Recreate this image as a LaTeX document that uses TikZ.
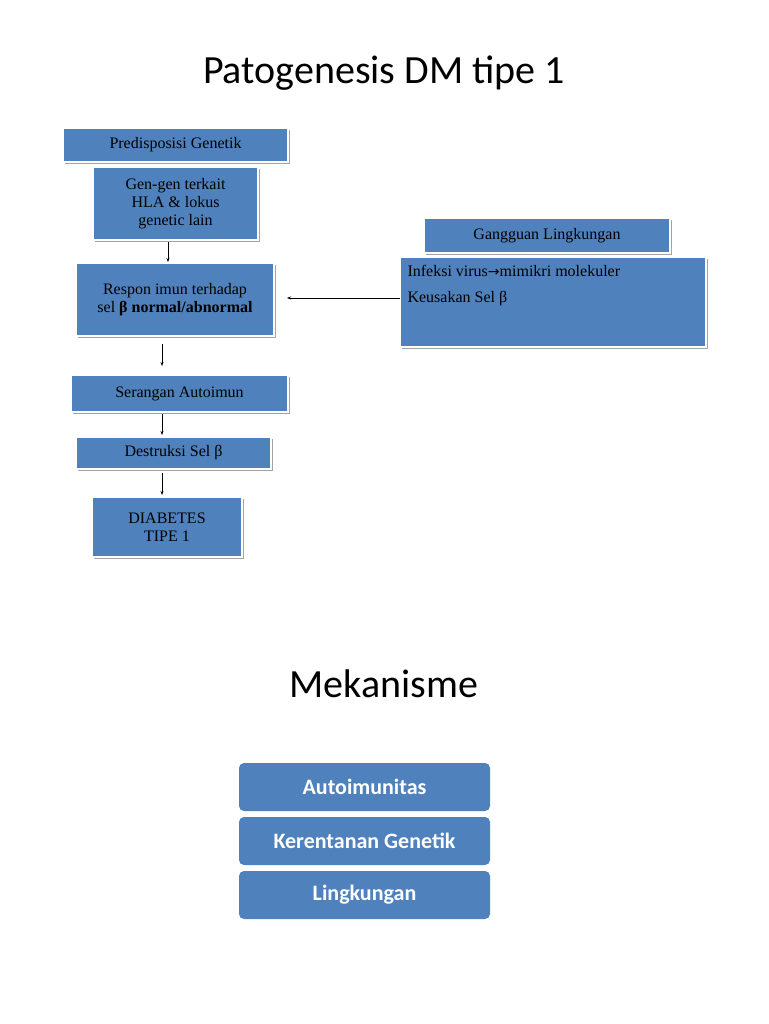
\documentclass[tikz,border=0pt]{standalone}
\usepackage{fontspec}
\setmainfont{Liberation Serif}
\newfontfamily\carfont{Carlito}
\newfontfamily\dvfont{DejaVu Sans}
\usetikzlibrary{shadows,arrows.meta}
\definecolor{bx}{HTML}{4F81BD}
\tikzset{
  fbox/.style={fill=bx,draw=white,line width=1.5pt,drop shadow={shadow xshift=2pt,shadow yshift=-2pt,fill=black!45,opacity=0.8},align=center,font=\fontsize{16}{18}\selectfont,inner sep=0pt},
  mbox/.style={fill=bx,draw=none,rounded corners=5pt,text=white,font=\carfont\bfseries\fontsize{22}{26}\selectfont,minimum width=251pt,minimum height=48pt},
  arr/.style={-{Stealth[length=4pt,width=3pt]},line width=0.6pt}
}
\begin{document}
\begin{tikzpicture}[x=1pt,y=-1pt]
\useasboundingbox[fill=white] (0,0) rectangle (768,1024);
\node[font=\carfont\fontsize{40}{48}\selectfont] (t1) at (384,73) {Patogenesis DM tipe 1};
\node[font=\carfont\fontsize{40}{48}\selectfont] (t2) at (384,684) {Mekanisme};
\node[fbox,minimum width=225pt,minimum height=34pt] (pg) at (175.5,145) {Predisposisi Genetik};
\node[fbox,minimum width=165pt,minimum height=73pt] (gg) at (175.5,203.5) {Gen-gen terkait\\HLA \& lokus\\genetic lain};
\node[fbox,minimum width=198pt,minimum height=73pt] (rs) at (175,299.5) {Respon imun terhadap\\sel \textbf{β normal/abnormal}};
\node[fbox,minimum width=246pt,minimum height=35pt] (gl) at (547,235.5) {Gangguan Lingkungan};
\node[fbox,minimum width=306pt,minimum height=90pt] (iv) at (553,302) {};
\node[anchor=north west,font=\fontsize{16}{18}\selectfont,align=left] (ivt) at (404,262) {Infeksi virus{\dvfont\fontsize{14}{16}\selectfont→}mimikri molekuler\\[8pt]Keusakan Sel β};
\node[fbox,minimum width=217pt,minimum height=37pt] (sa) at (179.5,393.5) {Serangan Autoimun};
\node[fbox,minimum width=195pt,minimum height=32pt] (ds) at (173.5,453) {Destruksi Sel β};
\node[fbox,minimum width=150pt,minimum height=60pt] (db) at (167,527) {DIABETES\\TIPE 1};
\coordinate (a1) at (168,242); \coordinate (a2) at (168,262);
\coordinate (b1) at (162,344); \coordinate (b2) at (162,366);
\coordinate (c1) at (162,414); \coordinate (c2) at (162,435);
\coordinate (d1) at (162,473); \coordinate (d2) at (162,495);
\coordinate (e1) at (400,298); \coordinate (e2) at (287,298);
\draw[arr] (a1)--(a2); \draw[arr] (b1)--(b2); \draw[arr] (c1)--(c2); \draw[arr] (d1)--(d2); \draw[arr] (e1)--(e2);
\node[mbox] (m1) at (364.5,787) {Autoimunitas};
\node[mbox] (m2) at (364.5,841) {Kerentanan Genetik};
\node[mbox] (m3) at (364.5,895) {Lingkungan};
\end{tikzpicture}
\end{document}
